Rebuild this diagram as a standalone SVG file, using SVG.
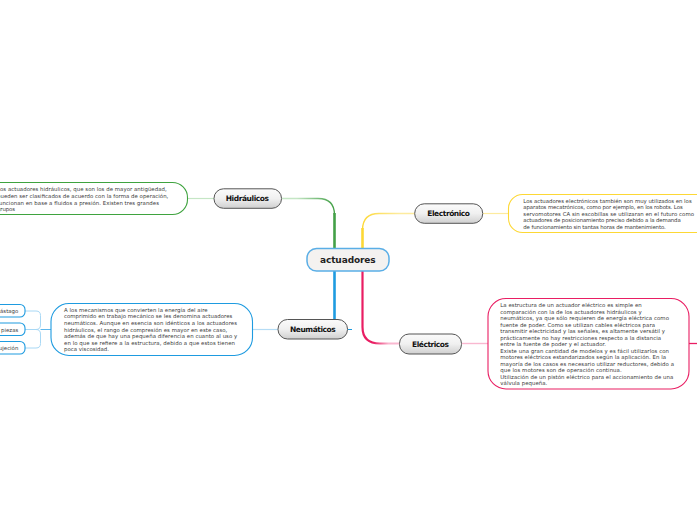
<svg xmlns="http://www.w3.org/2000/svg" width="697" height="520" viewBox="0 0 697 520">
<defs>
<linearGradient id="g" x1="0" y1="0" x2="0" y2="1"><stop offset="0" stop-color="#fbfbfb"/><stop offset="0.5" stop-color="#f0f0f0"/><stop offset="1" stop-color="#cfcfcf"/></linearGradient>
<linearGradient id="gh" gradientUnits="userSpaceOnUse" x1="281" y1="0" x2="334" y2="0"><stop offset="0.3" stop-color="#c5e6c5"/><stop offset="1" stop-color="#43a047"/></linearGradient>
<linearGradient id="ge" gradientUnits="userSpaceOnUse" x1="415" y1="0" x2="362" y2="0"><stop offset="0.3" stop-color="#fdeb9e"/><stop offset="1" stop-color="#fdd835"/></linearGradient>
<linearGradient id="gp" gradientUnits="userSpaceOnUse" x1="400" y1="0" x2="362" y2="0"><stop offset="0.3" stop-color="#f9b8d0"/><stop offset="0.7" stop-color="#e91e63"/></linearGradient>
</defs>
<style>
text{font-family:"DejaVu Sans",Verdana,sans-serif}
.t{font-size:5.4px;fill:#3a3a3a}
.n{font-size:7.5px;font-weight:bold;fill:#111}
.b{fill:url(#g);stroke:#555;stroke-width:1}
.c{fill:#fff;stroke-width:1.1}
</style>
<rect width="697" height="520" fill="#fff"/>
<g id="connectors" fill="none">
<path d="M282 198.500H318Q334.500 198.500 334.500 215" stroke="url(#gh)" stroke-width="1.300"/>
<path d="M334.500 213V249" stroke="#43a047" stroke-width="2.600"/>
<path d="M187 198.500H214" stroke="#c5e6c5" stroke-width="1.200"/>
<path d="M415 213.500H379Q362.500 213.500 362.500 230" stroke="url(#ge)" stroke-width="1.300"/>
<path d="M362.500 228V249" stroke="#fdd835" stroke-width="2.600"/>
<path d="M483 213.500H508" stroke="#fdeb9e" stroke-width="1.200"/>
<path d="M334.500 270V320" stroke="#1e9be0" stroke-width="2.600"/>
<path d="M252 329.500H278" stroke="#b5dcf5" stroke-width="1.200"/>
<path d="M348 329.500H352" stroke="#1e9be0" stroke-width="1"/>
<path d="M362.500 270V327Q362.500 343.500 380 343.500H400" stroke="url(#gp)" stroke-width="2.200"/>
<path d="M462 343.500H488" stroke="#f9b8d0" stroke-width="1.400"/>
<path d="M689 343.500H697" stroke="#e91e63" stroke-width="1.300"/>
<path d="M25 311H36Q40.500 311 40.500 315.500V325Q40.500 329.500 36 329.500H25M25 348H36Q40.500 348 40.500 343.500V334Q40.500 329.500 36 329.500" stroke="#a8d8f5" stroke-width="1"/>
<path d="M40.500 329.500H51" stroke="#5cb6ec" stroke-width="1"/>
</g>
<g id="node-actuadores">
<rect x="307" y="248.500" width="82" height="22.500" rx="9.500" fill="#f4f2f0" stroke="#5aaee6" stroke-width="1.500"/>
<text x="320" y="263" font-size="9" font-weight="bold" fill="#222" textLength="55.700">actuadores</text>
</g>
<g id="node-hidraulicos">
<rect class="b" x="214" y="188.800" width="67.500" height="19.500" rx="9.500"/>
<text class="n" x="225.700" y="201.300" textLength="43.300">Hidráulicos</text>
</g>
<g id="node-hidraulicos-text">
<rect class="c" x="-20" y="182.500" width="207.500" height="32" rx="15" stroke="#3fa33f"/>
<text class="t" x="-3" y="191" textLength="169.700">Los actuadores hidráulicos, que son los de mayor antigüedad,</text>
<text class="t" x="-3" y="198" textLength="171.300">pueden ser clasificados de acuerdo con la forma de operación,</text>
<text class="t" x="-3" y="204.500" textLength="162">funcionan en base a fluidos a presión. Existen tres grandes</text>
<text class="t" x="-3" y="211" textLength="18">grupos</text>
</g>
<g id="node-electronico">
<rect class="b" x="414.700" y="203.800" width="68" height="19.500" rx="9.500"/>
<text class="n" x="427.300" y="216" textLength="42.700">Electrónico</text>
</g>
<g id="node-electronico-text">
<rect class="c" x="508.500" y="194.500" width="210" height="38" rx="14" stroke="#fdd835"/>
<text class="t" x="523.300" y="202.700" textLength="168.400">Los actuadores electrónicos también son muy utilizados en los</text>
<text class="t" x="523.300" y="209" textLength="159.400">aparatos mecatrónicos, como por ejemplo, en los robots. Los</text>
<text class="t" x="523.300" y="216" textLength="170.700">servomotores CA sin escobillas se utilizaran en el futuro como</text>
<text class="t" x="523.300" y="222.300" textLength="157.400">actuadores de posicionamiento preciso debido a la demanda</text>
<text class="t" x="523.300" y="229.300" textLength="142.400">de funcionamiento sin tantas horas de mantenimiento.</text>
</g>
<g id="node-neumaticos">
<rect class="b" x="278" y="319.500" width="69.500" height="19.500" rx="9.500"/>
<text class="n" x="290" y="332" textLength="45.700">Neumáticos</text>
</g>
<g id="node-neumaticos-text">
<rect class="c" x="51" y="303.500" width="201.500" height="52" rx="18" stroke="#1e9be0"/>
<text class="t" x="64" y="312" textLength="143.700">A los mecanismos que convierten la energía del aire</text>
<text class="t" x="64" y="318.300" textLength="168.300">comprimido en trabajo mecánico se les denomina actuadores</text>
<text class="t" x="64" y="325" textLength="173">neumáticos. Aunque en esencia son idénticos a los actuadores</text>
<text class="t" x="64" y="331.700" textLength="163.300">hidráulicos, el rango de compresión es mayor en este caso,</text>
<text class="t" x="64" y="338.300" textLength="173.300">además de que hay una pequeña diferencia en cuanto al uso y</text>
<text class="t" x="64" y="345" textLength="171">en lo que se refiere a la estructura, debido a que estos tienen</text>
<text class="t" x="64" y="351.300" textLength="45">poca viscosidad.</text>
</g>
<g id="node-vastago">
<rect class="c" x="-30" y="304.500" width="55" height="12.500" rx="5" stroke="#1e9be0"/>
<text class="t" x="18.300" y="313" text-anchor="end">vástago</text>
</g>
<g id="node-piezas">
<rect class="c" x="-30" y="323" width="55" height="12.500" rx="5" stroke="#1e9be0"/>
<text class="t" x="18.300" y="332" text-anchor="end">piezas</text>
</g>
<g id="node-sujecion">
<rect class="c" x="-30" y="341.500" width="55" height="12.500" rx="5" stroke="#1e9be0"/>
<text class="t" x="18.300" y="350" text-anchor="end">sujeción</text>
</g>
<g id="node-electricos">
<rect class="b" x="399.500" y="334" width="62" height="20" rx="9.500"/>
<text class="n" x="412" y="347" textLength="37">Eléctricos</text>
</g>
<g id="node-electricos-text">
<rect class="c" x="488" y="298.500" width="201" height="90.500" rx="18" stroke="#e91e63"/>
<text class="t" x="500.300" y="307" textLength="141.400">La estructura de un actuador eléctrico es simple en</text>
<text class="t" x="500.300" y="313.700" textLength="141.400">comparación con la de los actuadores hidráulicos y</text>
<text class="t" x="500.300" y="320.300" textLength="168.700">neumáticos, ya que sólo requieren de energía eléctrica como</text>
<text class="t" x="500.300" y="326.700" textLength="154.700">fuente de poder. Como se utilizan cables eléctricos para</text>
<text class="t" x="500.300" y="333.300" textLength="164.700">transmitir electricidad y las señales, es altamente versátil y</text>
<text class="t" x="500.300" y="340" textLength="160.700">prácticamente no hay restricciones respecto a la distancia</text>
<text class="t" x="500.300" y="346" textLength="105.700">entre la fuente de poder y el actuador.</text>
<text class="t" x="500.300" y="353" textLength="168.700">Existe una gran cantidad de modelos y es fácil utilizarlos con</text>
<text class="t" x="500.300" y="359" textLength="165.700">motores eléctricos estandarizados según la aplicación.  En la</text>
<text class="t" x="500.300" y="366" textLength="173.700">mayoría de los casos es necesario utilizar reductores, debido a</text>
<text class="t" x="500.300" y="372.300" textLength="121.400">que los motores son de operación continua.</text>
<text class="t" x="500.300" y="379" textLength="173">Utilización de un pistón eléctrico para el accionamiento de una</text>
<text class="t" x="500.300" y="385.300" textLength="47">válvula pequeña.</text>
</g>
</svg>
